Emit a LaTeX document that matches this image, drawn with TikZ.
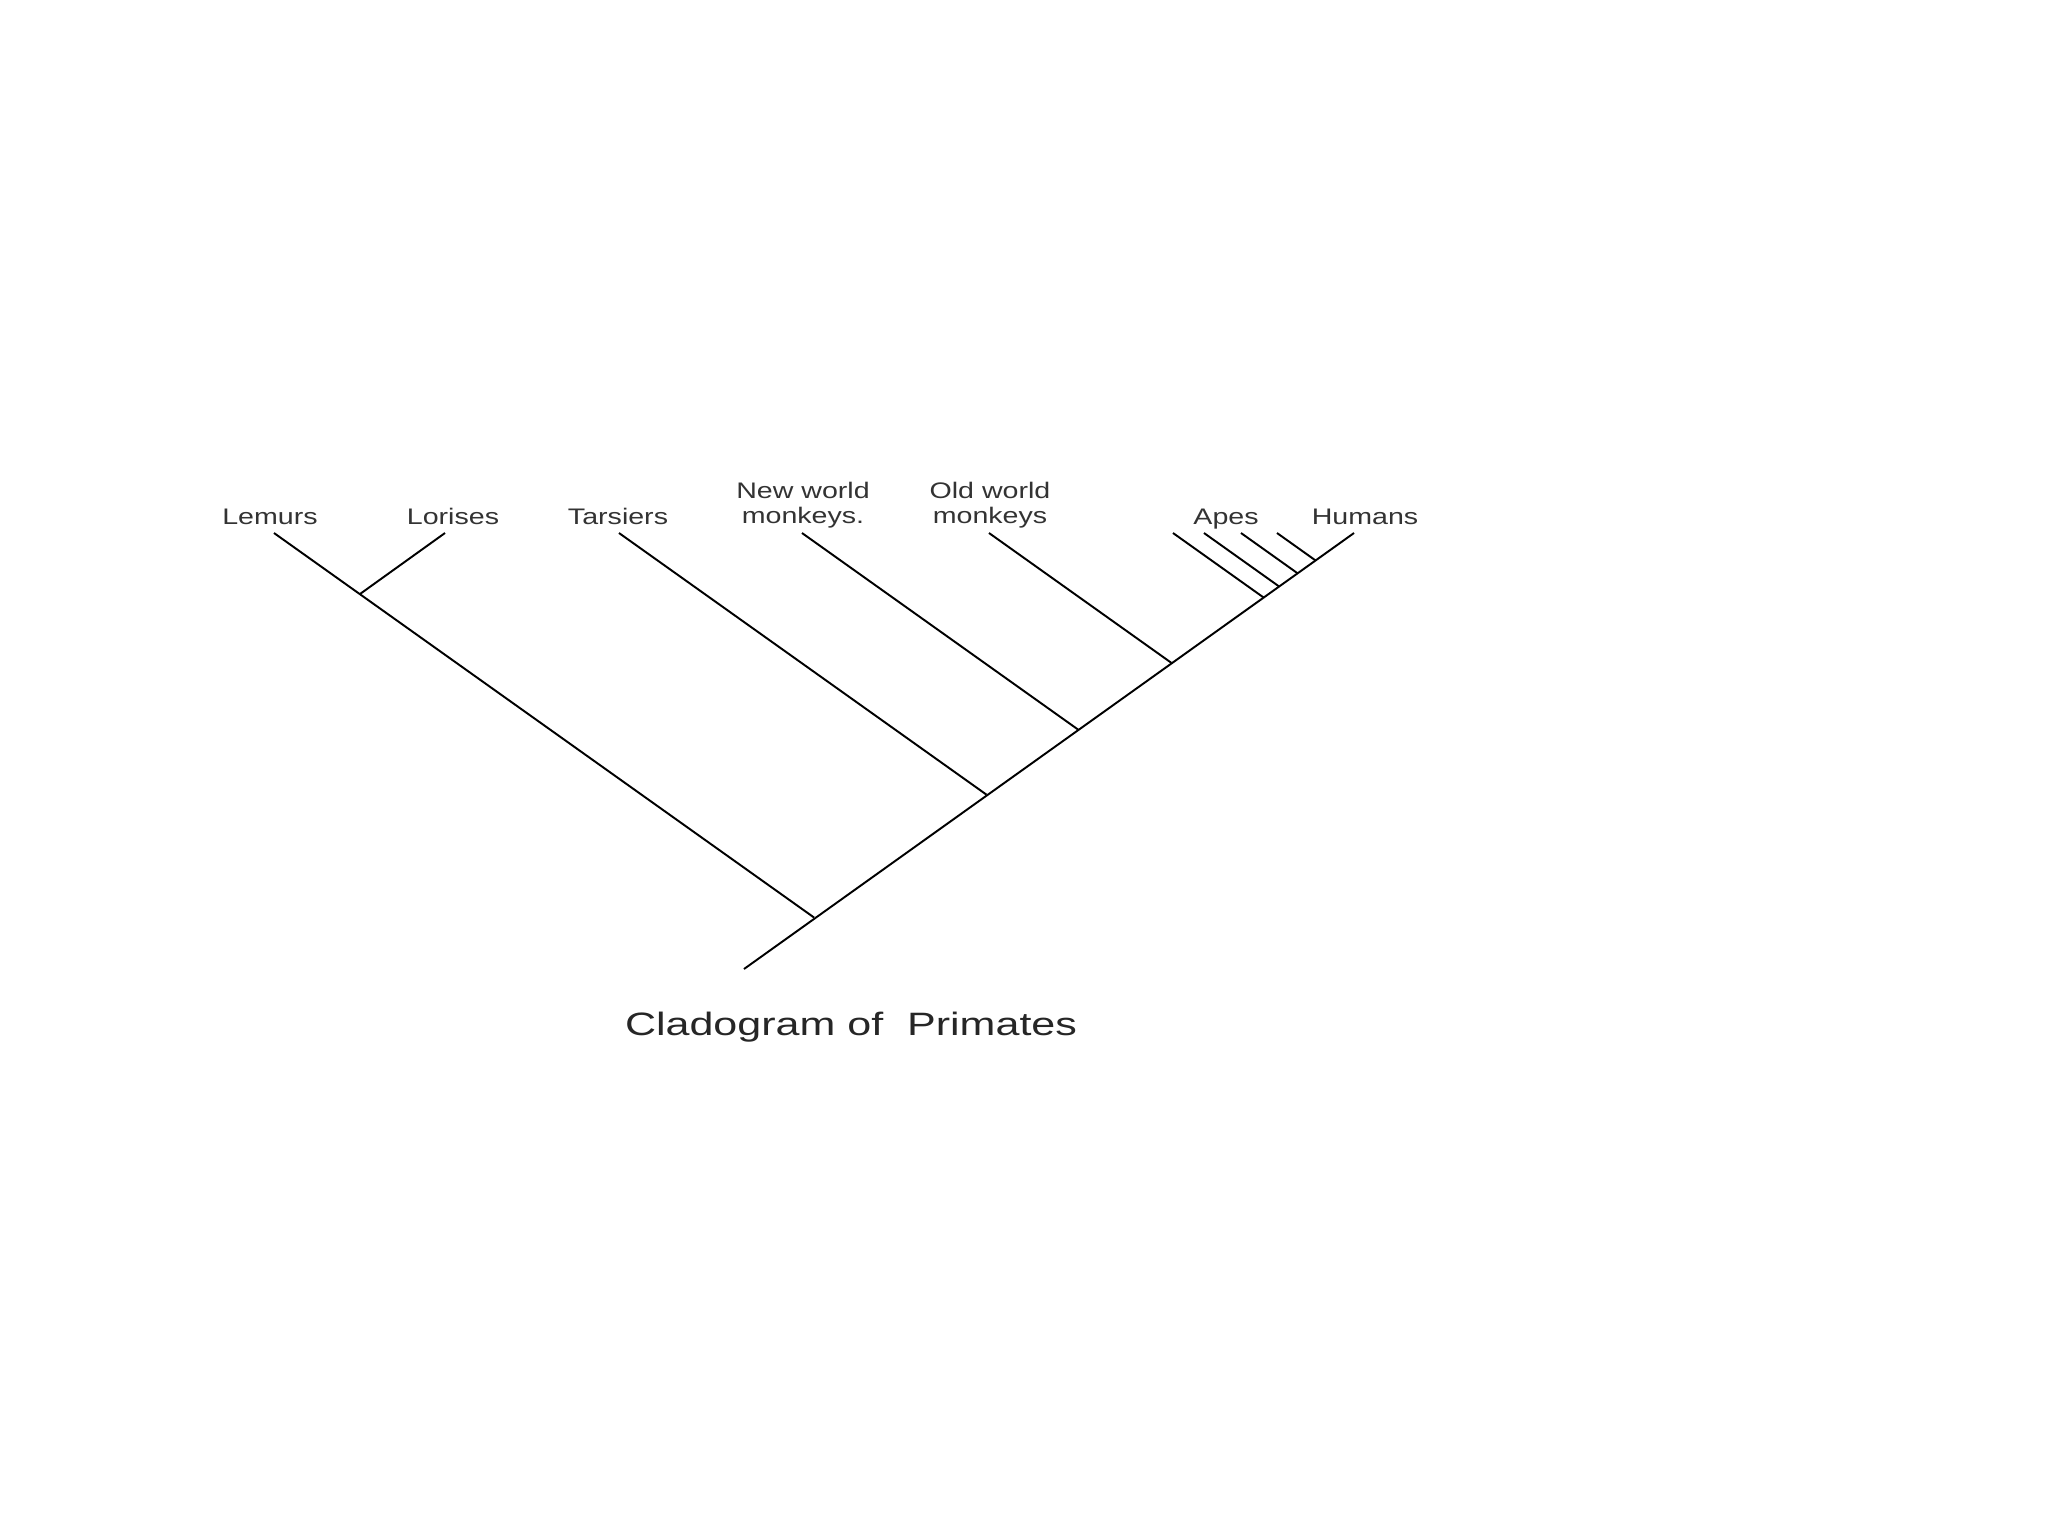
\documentclass[tikz,border=0pt]{standalone}
\usepackage{fontspec}
\setmainfont{Liberation Sans}

\begin{document}
\begin{tikzpicture}[x=0.01cm,y=-0.01cm,
    branch/.style={line width=0.55pt},
    taxon/.style={font=\fontsize{6.4}{7.1}\selectfont, xscale=1.27, inner sep=0pt,
                  anchor=south, text depth=0pt, align=center, text=black!80},
    caption/.style={font=\fontsize{9.2}{11}\selectfont, xscale=1.33, inner sep=0pt,
                    anchor=base, text=black!85}]
    \useasboundingbox (0,0) rectangle (2048,1536);

    % Leaves
    \coordinate (lemurs)   at (274,533);
    \coordinate (lorises)  at (445,533);
    \coordinate (tarsiers) at (619,533);
    \coordinate (newworld) at (802,533);
    \coordinate (oldworld) at (989,533);
    \coordinate (humans)   at (1354,533);
    \coordinate (root)     at (744,969);

    % Junctions on the main stem
    \foreach \name/\x in {lemurs/274,tarsiers/619,newworld/802,oldworld/989,
                          apeA/1173,apeB/1204,apeC/1241,apeD/1277} {
        \coordinate (j\name) at ({(\x+1354)/2},{533+0.712*(1354-\x)/2});
    }
    \coordinate (jlorises) at (360,594);

    % Main stem
    \draw[branch] (root) -- (humans);

    % Side branches
    \draw[branch] (lemurs) -- (jlemurs);
    \draw[branch] (lorises) -- (jlorises);
    \draw[branch] (tarsiers) -- (jtarsiers);
    \draw[branch] (newworld) -- (jnewworld);
    \draw[branch] (oldworld) -- (joldworld);

    % Apes
    \foreach \name/\x in {apeA/1173,apeB/1204,apeC/1241,apeD/1277} {
        \coordinate (\name) at (\x,533);
        \draw[branch] (\name) -- (j\name);
    }

    % Labels
    \node[taxon] (lemurlabel)  at (270,525)  {Lemurs};
    \node[taxon] (lorislabel)  at (453,525)  {Lorises};
    \node[taxon] (tarslabel)   at (618,525)  {Tarsiers};
    \node[taxon] (newlabel)    at (803,524)  {New world\\monkeys.};
    \node[taxon] (oldlabel)    at (990,524)  {Old world\\monkeys};
    \node[taxon] (apelabel)    at (1226,525) {Apes};
    \node[taxon] (humanlabel)  at (1365,525) {Humans};

    % Title
    \node[caption] (title) at (851,1035) {Cladogram of~~Primates};
\end{tikzpicture}
\end{document}
